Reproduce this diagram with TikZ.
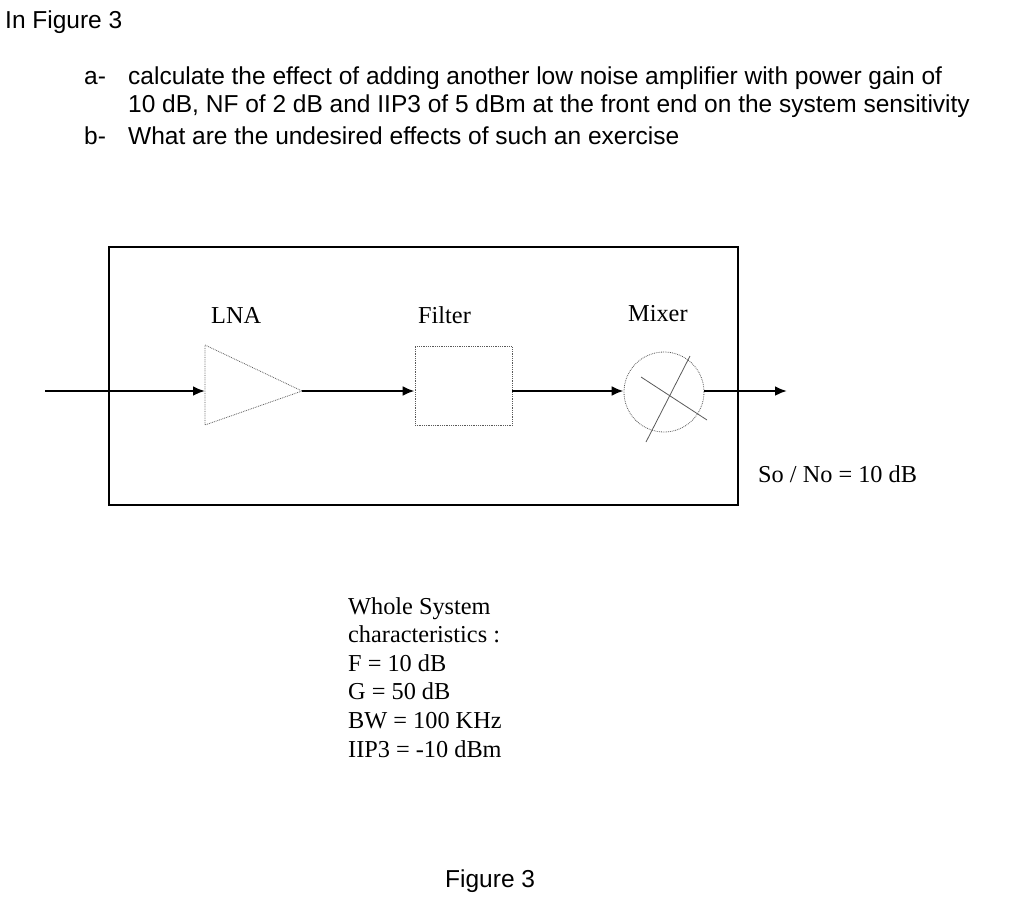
\documentclass[tikz,border=0pt]{standalone}
\usepackage{fontspec}
\setmainfont{Liberation Serif}
\newfontfamily\arialf{Liberation Sans}
\usetikzlibrary{arrows.meta}
\begin{document}
\begin{tikzpicture}[x=1pt,y=-1pt,
  sig/.style={line width=2.6pt,-{Latex[length=12pt,width=10pt]}},
  dotbox/.style={densely dotted,line width=0.8pt,gray!70!black},
  qtext/.style={font=\arialf\fontsize{24.5}{28}\selectfont,anchor=base west,inner sep=0},
  stext/.style={font=\fontsize{24.3}{28.6}\selectfont,anchor=base west,inner sep=0}]
\useasboundingbox (0,0) rectangle (1024,910);
\node[qtext] (t0) at (5,28) {In Figure 3};
\node[qtext] (ta) at (84,84) {a-};
\node[qtext] (ta1) at (128,84) {calculate the effect of adding another low noise amplifier with power gain of};
\node[qtext] (ta2) at (128,112) {10 dB, NF of 2 dB and IIP3 of 5 dBm at the front end on the system sensitivity};
\node[qtext] (tb) at (84,144) {b-};
\node[qtext] (tb1) at (128,144) {What are the undesired effects of such an exercise};
\draw[line width=2.2pt] (109,247) rectangle (738,505);
\node[stext] (lna) at (211,323) {LNA};
\node[stext] (flt) at (418,323) {Filter};
\node[stext] (mix) at (628,321) {Mixer};
\draw[dotbox] (205,345) -- (302,391) -- (205,425) -- cycle;
\coordinate (tin) at (205,391);
\coordinate (tout) at (302,391);
\node[dotbox,draw,minimum width=97pt,minimum height=79pt,inner sep=0] (fb) at (463.5,386) {};
\node[dotbox,draw,circle,minimum size=80pt,inner sep=0] (mx) at (664,392) {};
\draw[gray!70!black,line width=0.8pt] (641,377) -- (707,420);
\draw[gray!70!black,line width=0.8pt] (690,356) -- (646,442);
\coordinate (in) at (45,391);
\coordinate (out) at (787,391);
\draw[sig] (in) -- (tin);
\draw[sig] (tout) -- (fb.west|-tout);
\draw[sig] (fb.east|-tout) -- (mx.west|-tout);
\draw[sig] (mx.east|-tout) -- (out);
\node[stext] (sn) at (758,482) {So / No = 10 dB};
\node[stext,align=left,anchor=base west] (ws) at (348,757) {Whole System\\characteristics :\\F = 10 dB\\G = 50 dB\\BW = 100 KHz\\IIP3 = -10 dBm};
\node[qtext] (f3) at (445,887) {Figure 3};
\end{tikzpicture}
\end{document}
